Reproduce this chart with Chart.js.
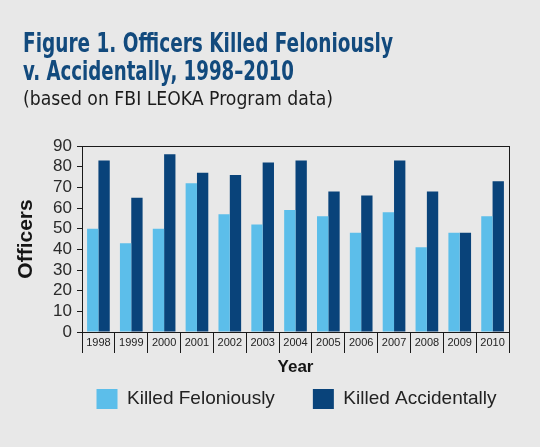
<!DOCTYPE html>
<html>
<head>
<meta charset="utf-8">
<script src="https://cdn.jsdelivr.net/npm/chart.js@4.4.1/dist/chart.umd.min.js"></script>
<style>
    html, body { margin: 0; padding: 0; background: #e8e8e8; }
    #quadro { position: relative; width: 540px; height: 447px; overflow: hidden; }
    #grafico { position: absolute; left: 0; top: 0; }
    .linha { position: absolute; left: 23px; white-space: nowrap; transform-origin: 0 0;
             font-family: 'Liberation Sans Narrow', 'Arial Narrow', 'DejaVu Sans Condensed', sans-serif; }
    .titulo { font-size: 27px; line-height: 28px; font-weight: bold; color: #124a7d; }
    .subtitulo { font-size: 19px; line-height: 22px; color: #1c1c1c; }
</style>
</head>
<body>
<div id="quadro">
    <canvas id="grafico" width="540" height="447"></canvas>
    <span class="linha titulo" id="t1" style="top:29px">Figure 1. Officers Killed Feloniously</span>
    <span class="linha titulo" id="t2" style="top:57px">v. Accidentally, 1998–2010</span>
    <span class="linha subtitulo" id="t3" style="top:87px">(based on FBI LEOKA Program data)</span>
</div>
<script>
// dados
const anos = ['1998', '1999', '2000', '2001', '2002', '2003', '2004', '2005', '2006', '2007', '2008', '2009', '2010'];
const feloniosos = [50, 43, 50, 72, 57, 52, 59, 56, 48, 58, 41, 48, 56];
const acidentais = [83, 65, 86, 77, 76, 82, 83, 68, 66, 83, 68, 48, 73];
const rotulosSeries = ['Killed Feloniously', 'Killed Accidentally'];
const limitesY = [0, 90];
const passoY = 10;

(function () {
    const paleta = {
        claro: 'rgb(92, 190, 234)',
        escuro: 'rgb(9, 67, 122)',
        linha: '#1a1a1a',
        texto: '#262626'
    };

    // larguras das linhas do titulo como no original
    const larguras = { t1: 370, t2: 271, t3: 310 };
    Object.keys(larguras).forEach(function (id) {
        const el = document.getElementById(id);
        const w = el.getBoundingClientRect().width;
        if (w > 0) el.style.transform = 'scaleX(' + (larguras[id] / w) + ')';
    });

    Chart.defaults.font.family = "'Liberation Sans', Arial, sans-serif";
    Chart.defaults.color = paleta.texto;

    const canvas = document.getElementById('grafico');
    new Chart(canvas, {
        type: 'bar',
        data: {
            labels: anos,
            datasets: [{
                label: rotulosSeries[0],
                data: feloniosos,
                backgroundColor: paleta.claro,
                borderWidth: 0,
                xAxisID: 'x',
                yAxisID: 'y'
            }, {
                label: rotulosSeries[1],
                data: acidentais,
                backgroundColor: paleta.escuro,
                borderWidth: 0,
                xAxisID: 'x',
                yAxisID: 'y'
            }]
        },
        options: {
            responsive: false,
            animation: false,
            categoryPercentage: 0.69,
            barPercentage: 1.0,
            // a direita negativa centra a legenda sob a area do grafico
            layout: { padding: { top: 146, left: 0, right: -53, bottom: 28 } },
            plugins: {
                tooltip: { enabled: false },
                legend: {
                    position: 'bottom',
                    align: 'center',
                    labels: {
                        boxWidth: 21,
                        boxHeight: 20,
                        padding: 38,
                        color: '#222',
                        font: { size: 19 }
                    }
                }
            },
            scales: {
                x: {
                    type: 'category',
                    position: 'bottom',
                    grid: { drawOnChartArea: false, offset: true, tickLength: 21, color: paleta.linha, lineWidth: 1 },
                    border: { display: true, color: paleta.linha, width: 1 },
                    ticks: { font: { size: 11 }, color: '#222', padding: -17, maxRotation: 0, autoSkip: false },
                    title: {
                        display: true,
                        text: 'Year',
                        color: '#151515',
                        font: { size: 17, weight: 'bold' },
                        padding: { top: 0, bottom: -27 }
                    },
                    afterFit: function (s) { s.height = 19; }
                },
                xTopo: {
                    type: 'category',
                    position: 'top',
                    grid: { display: false },
                    ticks: { display: false },
                    border: { display: true, color: paleta.linha, width: 1 },
                    afterFit: function (s) { s.height = 0; }
                },
                y: {
                    position: 'left',
                    min: limitesY[0],
                    max: limitesY[1],
                    ticks: { stepSize: passoY, font: { size: 17 }, color: '#2a2a2a', padding: 5, autoSkip: false },
                    grid: { drawOnChartArea: false, tickLength: 5, color: paleta.linha, lineWidth: 1 },
                    border: { display: true, color: paleta.linha, width: 1 },
                    title: {
                        display: true,
                        text: 'Officers',
                        color: '#151515',
                        font: { size: 21, weight: 'bold' },
                        padding: { top: 14, bottom: 0 }
                    },
                    afterFit: function (s) { s.width = 82; }
                },
                yDireita: {
                    type: 'linear',
                    position: 'right',
                    min: limitesY[0],
                    max: limitesY[1],
                    grid: { display: false },
                    ticks: { display: false },
                    border: { display: true, color: paleta.linha, width: 1 },
                    afterFit: function (s) { s.width = 84; }
                }
            }
        }
    });
})();
</script>
</body>
</html>
